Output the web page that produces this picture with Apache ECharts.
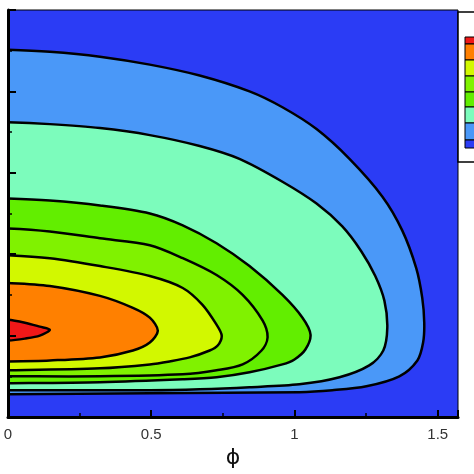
<!DOCTYPE html>
<html lang="en" style="background: #FFFFFF;height: 100%">
<head>
  <meta charset="utf-8" />
  <title>contour phi</title>
  <script src="https://cdn.jsdelivr.net/npm/echarts@6/dist/echarts.min.js"></script>
</head>
<body style="margin: 0;height: 100%">
<div id="chart" style="width: 474px;height: 474px"></div>
<script>
// level fills, lowest first (blue background is level 1)
const levelColors = ['#2b3cf5', '#4a98f8', '#7cfcbc', '#62ee00', '#80f200', '#d2f800', '#ff8000', '#f01818'];

// contour boundaries, [phi, y]
const c1 = [[0, 4.512], [0.146, 4.488], [0.321, 4.427], [0.495, 4.329], [0.669, 4.195], [0.843, 4.000],
  [0.958, 3.805], [1.077, 3.537], [1.192, 3.171], [1.307, 2.707], [1.376, 2.293], [1.425, 1.829],
  [1.446, 1.463], [1.453, 1.159], [1.449, 0.915], [1.429, 0.695], [1.366, 0.500], [1.251, 0.378],
  [1.132, 0.329], [1.017, 0.305], [0.495, 0.293], [0, 0.280]];
const c2 = [[0, 3.622], [0.146, 3.598], [0.321, 3.549], [0.495, 3.463], [0.669, 3.329], [0.808, 3.171],
  [0.958, 2.890], [1.077, 2.622], [1.167, 2.341], [1.233, 2.037], [1.282, 1.732], [1.314, 1.427],
  [1.324, 1.098], [1.310, 0.817], [1.261, 0.634], [1.157, 0.488], [1.017, 0.402], [0.843, 0.366],
  [0.669, 0.341], [0.495, 0.329], [0, 0.329]];
const c3 = [[0, 2.683], [0.146, 2.659], [0.321, 2.598], [0.495, 2.500], [0.610, 2.354], [0.728, 2.134],
  [0.843, 1.854], [0.958, 1.500], [1.028, 1.220], [1.056, 1.012], [1.038, 0.829], [1.000, 0.707],
  [0.958, 0.646], [0.843, 0.549], [0.728, 0.488], [0.610, 0.463], [0.321, 0.427], [0, 0.415]];
const c4 = [[0, 2.317], [0.146, 2.280], [0.321, 2.195], [0.495, 2.110], [0.610, 1.951], [0.728, 1.744],
  [0.819, 1.500], [0.889, 1.183], [0.906, 0.976], [0.885, 0.817], [0.819, 0.646], [0.728, 0.573],
  [0.610, 0.524], [0.321, 0.500], [0, 0.500]];
const c5 = [[0, 1.988], [0.146, 1.951], [0.321, 1.854], [0.495, 1.732], [0.610, 1.585], [0.679, 1.378],
  [0.728, 1.134], [0.746, 1.000], [0.732, 0.878], [0.704, 0.817], [0.634, 0.732], [0.564, 0.683],
  [0.495, 0.646], [0.321, 0.598], [0, 0.573]];
const c6 = [[0, 1.646], [0.146, 1.610], [0.321, 1.488], [0.436, 1.341], [0.495, 1.220], [0.523, 1.061],
  [0.495, 0.915], [0.436, 0.817], [0.321, 0.732], [0.146, 0.695], [0, 0.683]];
const c7 = [[0, 1.195], [0.059, 1.159], [0.111, 1.110], [0.146, 1.073], [0.111, 1.000], [0.059, 0.963], [0, 0.939]];
const contours = [c1, c2, c3, c4, c5, c6, c7];

const xTicks = [0, 0.5, 1, 1.5];

const chart = echarts.init(document.getElementById('chart'));

// legend swatches, top (red) to bottom (blue)
const swatchH = [7, 16, 16, 16, 15, 16, 17, 8];
const legendItems = [];
let sy = 37;
for (let i = 0; i < levelColors.length; i++) {
  const c = levelColors[levelColors.length - 1 - i];
  legendItems.push({
    type: 'rect', shape: { x: 465, y: sy, width: 14, height: swatchH[i] },
    style: { fill: c, stroke: '#000', lineWidth: 1 }, z: 20
  });
  sy += swatchH[i];
}

chart.setOption({
  animation: false,
  grid: {
    left: 8, right: 16, top: 10, bottom: 54,
    show: true, backgroundColor: levelColors[0], borderColor: '#000', borderWidth: 1
  },
  xAxis: {
    type: 'value', min: 0, max: Math.PI / 2, interval: 0.5, z: 10,
    name: 'ϕ', nameLocation: 'middle', nameGap: 30,
    nameTextStyle: { fontSize: 22, color: '#111', fontFamily: 'DejaVu Sans' },
    axisLine: { lineStyle: { color: '#000', width: 3 } },
    axisTick: { inside: true, length: 7, lineStyle: { color: '#000', width: 2 } },
    minorTick: { show: true, splitNumber: 2, length: 4, lineStyle: { color: '#000', width: 1.5 } },
    splitLine: { show: false },
    axisLabel: {
      color: '#333', fontSize: 15, margin: 10, fontFamily: 'Liberation Sans', showMaxLabel: false,
      formatter: v => (xTicks.indexOf(+v.toFixed(2)) >= 0 ? String(+v.toFixed(2)) : '')
    }
  },
  yAxis: {
    type: 'value', min: 0, max: 5, interval: 1, z: 10,
    axisLine: { lineStyle: { color: '#000', width: 3 } },
    axisTick: { inside: true, length: 8, lineStyle: { color: '#000', width: 2 } },
    minorTick: { show: true, splitNumber: 2, length: 4, lineStyle: { color: '#000', width: 1.5 } },
    splitLine: { show: false },
    axisLabel: { show: false }
  },
  series: [{
    type: 'custom',
    coordinateSystem: 'cartesian2d',
    clip: true,
    data: contours.map((c, i) => [c[0][0], c[0][1], i]),
    renderItem: function (params, api) {
      const i = params.dataIndex;
      const c = contours[i];
      // pad both ends just left of the axis so the closing edge sits outside the clip
      const ring = [[-0.08, c[0][1]]].concat(c, [[-0.08, c[c.length - 1][1]]]);
      const pts = ring.map(p => api.coord(p));
      return {
        type: 'polygon',
        shape: { points: pts, smooth: 0.3 },
        style: { fill: levelColors[i + 1], stroke: '#000', lineWidth: 2.5, lineJoin: 'round' }
      };
    }
  }],
  graphic: [{
    type: 'rect', shape: { x: 458, y: 12, width: 30, height: 150 },
    style: { fill: '#fff', stroke: '#000', lineWidth: 1.5 }, z: 19
  }].concat(legendItems)
});
</script>
</body>
</html>
